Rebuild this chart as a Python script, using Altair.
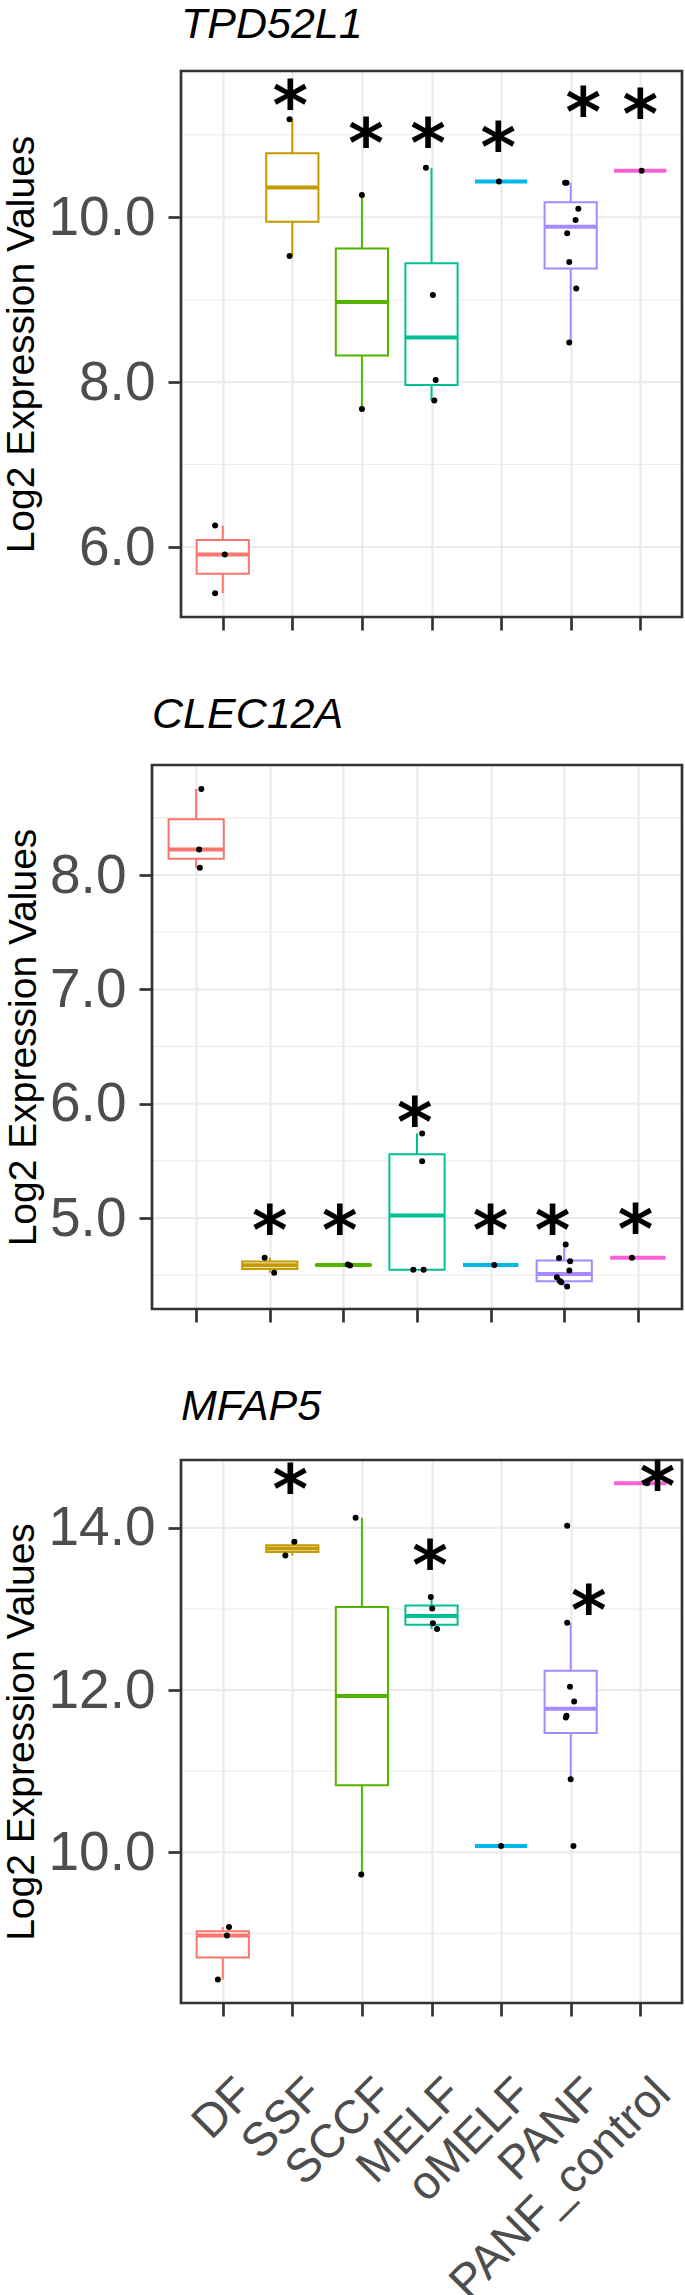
import json
import altair as alt
import pandas as pd

GROUPS = ["DF", "SSF", "SCCF", "MELF", "oMELF", "PANF", "PANF_control"]
COLORS = ["#F8766D", "#C49A00", "#53B400", "#00C094", "#00B6EB", "#A58AFF", "#FB61D7"]

# ---------------- TPD52L1 ----------------
TPD_POINTS = {
    "DF": [6.26, 5.91, 5.44],
    "SSF": [11.19, 9.53],
    "SCCF": [10.27, 7.675],
    "MELF": [10.60, 9.057, 8.027, 7.778],
    "oMELF": [10.434],
    "PANF": [10.419, 10.419, 10.104, 9.966, 9.805, 9.458, 9.136, 8.482],
    "PANF_control": [10.564],
}
TPD_JITTER = {
    "DF": [-0.11, 0.03, -0.11],
    "SSF": [-0.04, -0.04],
    "SCCF": [0.0, 0.0],
    "MELF": [-0.08, 0.02, 0.06, 0.04],
    "oMELF": [-0.03],
    "PANF": [-0.08, -0.06, 0.11, 0.07, -0.05, -0.02, 0.08, -0.02],
    "PANF_control": [0.02],
}
TPD_Q1 = [5.675, 9.945, 8.324, 7.965, 10.434, 9.378, 10.564]
TPD_MED = [5.91, 10.36, 8.973, 8.542, 10.434, 9.886, 10.564]
TPD_Q3 = [6.085, 10.775, 9.621, 9.443, 10.434, 10.183, 10.564]
TPD_LO = [5.44, 9.53, 7.675, 7.778, 10.434, 8.482, 10.564]
TPD_HI = [6.26, 11.19, 10.27, 10.60, 10.434, 10.419, 10.564]
TPD_STAR = [None, 11.5, 11.035, 11.035, 10.98, 11.41, 11.38]
TPD_STAR_DX = [0.0, -0.03, 0.06, -0.05, -0.04, 0.18, 0.0]

# ---------------- CLEC12A ----------------
CLEC_POINTS = {
    "DF": [8.753, 8.222, 8.063],
    "SSF": [4.653, 4.523],
    "SCCF": [4.595, 4.585],
    "MELF": [5.74, 5.498, 4.548, 4.548],
    "oMELF": [4.59],
    "PANF": [4.768, 4.652, 4.622, 4.541, 4.482, 4.45, 4.438, 4.401],
    "PANF_control": [4.653],
}
CLEC_JITTER = {
    "DF": [0.07, 0.04, 0.05],
    "SSF": [-0.07, 0.06],
    "SCCF": [0.06, 0.09],
    "MELF": [0.07, 0.07, -0.05, 0.09],
    "oMELF": [0.05],
    "PANF": [0.02, -0.07, 0.08, 0.07, -0.10, -0.06, -0.04, 0.04],
    "PANF_control": [-0.08],
}
CLEC_Q1 = [8.1425, 4.5555, 4.5875, 4.548, 4.59, 4.447, 4.653]
CLEC_MED = [8.222, 4.588, 4.59, 5.023, 4.59, 4.5115, 4.653]
CLEC_Q3 = [8.4875, 4.6205, 4.5925, 5.5585, 4.59, 4.6295, 4.653]
CLEC_LO = [8.063, 4.523, 4.585, 4.548, 4.59, 4.401, 4.653]
CLEC_HI = [8.753, 4.653, 4.595, 5.74, 4.59, 4.768, 4.653]
CLEC_STAR = [None, 4.99, 4.99, 5.94, 4.99, 4.99, 5.0]
CLEC_STAR_DX = [0.0, 0.0, -0.05, -0.03, 0.0, -0.16, -0.03]

# ---------------- MFAP5 ----------------
MFAP_POINTS = {
    "DF": [9.077, 8.972, 8.43],
    "SSF": [13.83, 13.66],
    "SCCF": [14.127, 9.725],
    "MELF": [13.148, 13.007, 12.824, 12.754],
    "oMELF": [10.077],
    "PANF": [14.028, 12.831, 12.042, 11.859, 11.683, 11.662, 10.901, 10.077],
    "PANF_control": [14.55],
}
MFAP_JITTER = {
    "DF": [0.09, 0.06, -0.07],
    "SSF": [0.03, -0.10],
    "SCCF": [-0.09, -0.01],
    "MELF": [-0.01, 0.01, 0.02, 0.08],
    "oMELF": [0.0],
    "PANF": [-0.05, -0.05, -0.01, 0.05, -0.06, -0.07, 0.0, 0.04],
    "PANF_control": [0.10],
}
MFAP_Q1 = [8.701, 13.7025, 10.8255, 12.8065, 10.077, 11.472, 14.55]
MFAP_MED = [8.972, 13.745, 11.926, 12.9155, 10.077, 11.771, 14.55]
MFAP_Q3 = [9.0245, 13.7875, 13.0265, 13.042, 10.077, 12.239, 14.55]
MFAP_LO = [8.43, 13.66, 9.725, 12.754, 10.077, 10.901, 14.55]
MFAP_HI = [9.077, 13.83, 14.127, 13.148, 10.077, 12.831, 14.55]
MFAP_STAR = [None, 14.62, None, 13.676, None, 13.127, 14.658]
MFAP_STAR_DX = [0.0, -0.03, 0.0, -0.02, 0.0, 0.26, 0.25]

YTITLE = "Log2 Expression Values"
FONT = "Liberation Sans"
STAR_SIZE = 68
VIEW_W = 530          # common view width (CLEC12A panel uses it all)
PAD = 0.6             # discrete expansion on each side, in category units


def panel(gene, pts, jit, q1, med, q3, lo, hi, star, star_dx,
          ydom, ymajor, yminor, plot_w, h, last, title_dy=0):
    n = len(GROUPS)
    pos = list(range(1, n + 1))
    lo_edge, hi_edge = 1 - PAD, n + PAD
    shift = VIEW_W - plot_w                      # empty strip left of the frame
    units_per_px = (hi_edge - lo_edge) / plot_w
    xdom = [lo_edge - shift * units_per_px, hi_edge]

    box = pd.DataFrame({"group": GROUPS, "pos": pos, "q1": q1, "med": med,
                        "q3": q3, "lo": lo, "hi": hi, "star": star, "sdx": star_dx})
    rows = []
    for g, p in zip(GROUPS, pos):
        for v, j in zip(pts[g], jit[g]):
            rows.append({"group": g, "pos": p, "value": v, "jit": j})
    pdf = pd.DataFrame(rows)
    minor = pd.DataFrame({"v": yminor, "a": lo_edge, "b": hi_edge})
    major = pd.DataFrame({"v": ymajor, "a": lo_edge, "b": hi_edge})
    frame = pd.DataFrame({"a": [lo_edge], "b": [hi_edge], "y1": [ydom[0]], "y2": [ydom[1]]})

    xscale = alt.Scale(domain=xdom, nice=False, zero=False)
    yscale = alt.Scale(domain=ydom, nice=False, zero=False)
    cscale = alt.Scale(domain=GROUPS, range=COLORS)

    xaxis = alt.Axis(values=pos, labelExpr=json.dumps(GROUPS) + "[datum.value - 1]",
                     title=None, labels=last, grid=True, domain=False,
                     labelAngle=-45, labelAlign="right", labelBaseline="top",
                     labelPadding=54, labelOffset=6, labelFontSize=47,
                     labelColor="#4D4D4D", labelFont=FONT, labelOverlap=False,
                     labelLimit=0, labelFlush=False,
                     tickSize=13, tickWidth=2.7, tickColor="#333333",
                     gridColor="#EBEBEB", gridWidth=2.2)
    yaxis = alt.Axis(values=ymajor, format=".1f", title=YTITLE, grid=False,
                     domain=False, offset=-shift, labelFontSize=55,
                     labelColor="#4D4D4D", labelFont=FONT, labelPadding=13,
                     tickSize=13, tickWidth=2.7, tickColor="#333333",
                     titleFontSize=39, titleFont=FONT, titleFontWeight="normal",
                     titleColor="black", titlePadding=6)

    X = lambda f: alt.X(f, type="quantitative", scale=xscale, axis=xaxis)
    Y = lambda f: alt.Y(f, type="quantitative", scale=yscale, axis=yaxis)

    minor_rules = alt.Chart(minor).mark_rule(color="#EBEBEB", strokeWidth=1.1).encode(
        x=X("a"), x2="b", y=Y("v"))
    major_rules = alt.Chart(major).mark_rule(color="#EBEBEB", strokeWidth=2.2).encode(
        x=X("a"), x2="b", y=Y("v"))

    whisk = alt.Chart(box).mark_rule(strokeWidth=2).encode(
        x=X("pos"), y=Y("lo"), y2="hi",
        color=alt.Color("group:N", scale=cscale, legend=None))

    boxes = alt.Chart(box).transform_calculate(
        xa="datum.pos - 0.375", xb="datum.pos + 0.375"
    ).mark_rect(fill="white", strokeWidth=2).encode(
        x=X("xa"), x2="xb", y=Y("q1"), y2="q3",
        stroke=alt.Stroke("group:N", scale=cscale, legend=None))

    medians = alt.Chart(box).transform_calculate(
        xa="datum.pos - 0.375", xb="datum.pos + 0.375"
    ).mark_rule(strokeWidth=4).encode(
        x=X("xa"), x2="xb", y=Y("med"),
        color=alt.Color("group:N", scale=cscale, legend=None))

    dots = alt.Chart(pdf).transform_calculate(
        xj="datum.pos + datum.jit"
    ).mark_circle(size=36, color="black", opacity=1).encode(
        x=X("xj"), y=Y("value"))

    border = alt.Chart(frame).mark_rect(fill="white", fillOpacity=0, stroke="#333333",
                                        strokeWidth=2.7).encode(
        x=X("a"), x2="b", y=Y("y1"), y2="y2")

    stars = alt.Chart(box).transform_filter("isValid(datum.star)").transform_calculate(
        xs="datum.pos + datum.sdx"
    ).mark_text(text="*", font="DejaVu Sans", fontWeight="bold", fontSize=STAR_SIZE,
                baseline="alphabetic", align="center", dy=35,
                color="black").encode(
        x=X("xs"), y=Y("star"))

    return alt.layer(minor_rules, major_rules, whisk, boxes, medians, dots,
                     border, stars).properties(
        width=VIEW_W, height=h,
        title=alt.TitleParams(text=gene, anchor="start", frame="group", fontSize=43,
                              fontStyle="italic", fontWeight="normal", font=FONT,
                              color="black", offset=27, dx=shift, dy=title_dy))


p1 = panel("TPD52L1", TPD_POINTS, TPD_JITTER, TPD_Q1, TPD_MED, TPD_Q3, TPD_LO, TPD_HI,
           TPD_STAR, TPD_STAR_DX, [5.151, 11.774], [6, 8, 10], [7, 9, 11], 501, 546, False,
           title_dy=4)
p2 = panel("CLEC12A", CLEC_POINTS, CLEC_JITTER, CLEC_Q1, CLEC_MED, CLEC_Q3, CLEC_LO, CLEC_HI,
           CLEC_STAR, CLEC_STAR_DX, [4.205, 8.962], [5, 6, 7, 8], [4.5, 5.5, 6.5, 7.5, 8.5],
           530, 544, False)
p3 = panel("MFAP5", MFAP_POINTS, MFAP_JITTER, MFAP_Q1, MFAP_MED, MFAP_Q3, MFAP_LO, MFAP_HI,
           MFAP_STAR, MFAP_STAR_DX, [8.141, 14.838], [10, 12, 14], [9, 11, 13], 501, 543, True)

PAGE_W, PAGE_H = 685, 2295
ORIGIN_X, ORIGIN_Y = 152, 71   # top-left corner of the first view in the page

# with autosize "none" the page width is padding + the shared view width
chart = alt.vconcat(p1, p2, p3, spacing=61).properties(
    autosize=alt.AutoSizeParams(type="none"),
    padding={"left": ORIGIN_X, "top": ORIGIN_Y,
             "right": PAGE_W - ORIGIN_X - VIEW_W, "bottom": PAGE_H - ORIGIN_Y}
).configure_view(stroke="transparent", fill="white")

chart.save("out.html", embed_options={"renderer": "svg", "actions": False})
